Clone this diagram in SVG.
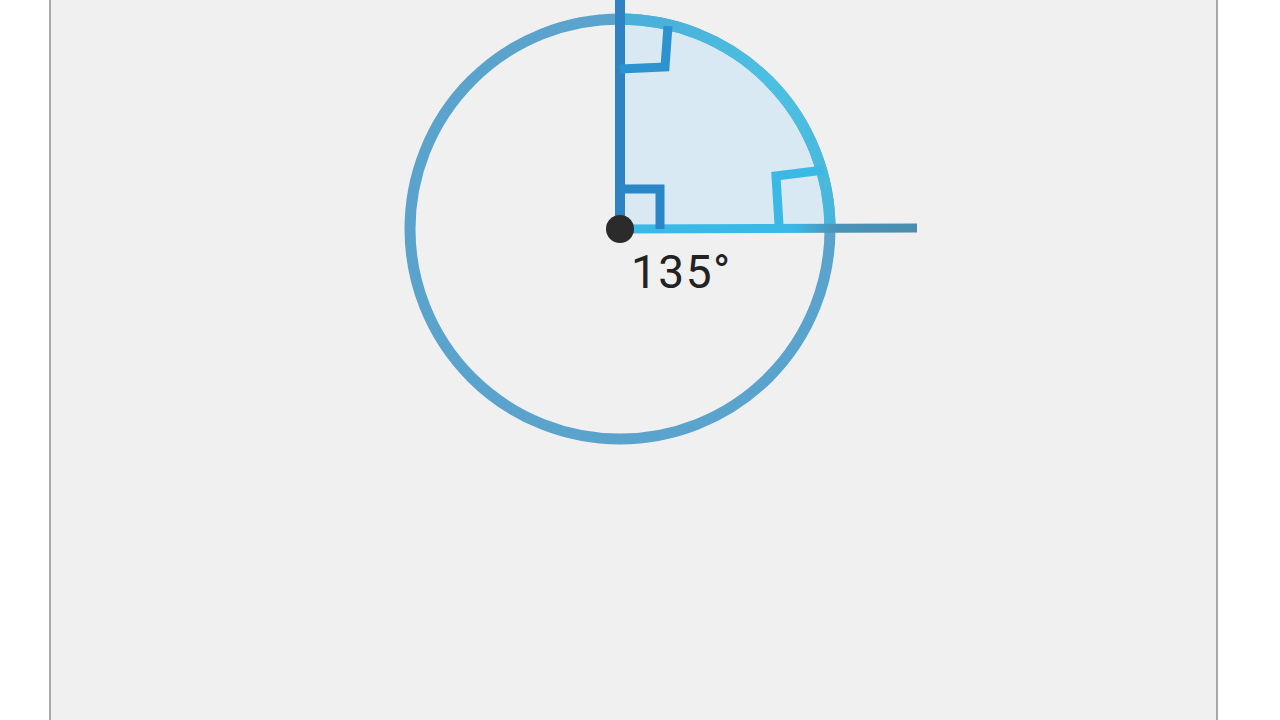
<svg xmlns="http://www.w3.org/2000/svg" width="1280" height="720" viewBox="0 0 1280 720">
  <defs>
    <linearGradient id="hline" gradientUnits="userSpaceOnUse" x1="620" y1="0" x2="917" y2="0">
      <stop offset="0" stop-color="#3ab9e6"/>
      <stop offset="0.58" stop-color="#3ab9e6"/>
      <stop offset="0.72" stop-color="#4a93b8"/>
      <stop offset="1" stop-color="#4a8db0"/>
    </linearGradient>
    <linearGradient id="arcq" gradientUnits="userSpaceOnUse" x1="620" y1="19" x2="831" y2="229">
      <stop offset="0" stop-color="#4aaed8"/>
      <stop offset="0.5" stop-color="#4cc0e2"/>
      <stop offset="1" stop-color="#48b6dc"/>
    </linearGradient>
    <style>
      .marker { fill: none; stroke-width: 9; stroke-linejoin: miter; }
    </style>
  </defs>
  <rect x="0" y="0" width="1280" height="720" fill="#ffffff"/>
  <rect x="50" y="0" width="1167" height="720" fill="#f0f0f1"/>
  <line x1="50" y1="0" x2="50" y2="720" stroke="#a8a8a8" stroke-width="2"/>
  <line x1="1217" y1="0" x2="1217" y2="720" stroke="#a8a8a8" stroke-width="2"/>

  <g id="sector">
    <path d="M620,229 L620,19 A210,210 0 0 1 830,229 Z" fill="#d8e9f3"/>
  </g>

  <g id="circle">
    <circle cx="620" cy="229" r="210" fill="none" stroke="#5aa3cd" stroke-width="11"/>
    <path d="M620,19 A210,210 0 0 1 830,229" fill="none" stroke="url(#arcq)" stroke-width="11"/>
  </g>

  <g id="connectors">
    <line x1="620" y1="229" x2="917" y2="228" stroke="url(#hline)" stroke-width="9"/>
    <line x1="620" y1="0" x2="620" y2="229" stroke="#2f83c4" stroke-width="10"/>
  </g>

  <g id="right-angle-center">
    <polyline class="marker" points="620,189 660,189 660,229" stroke="#2b86c8"/>
  </g>
  <g id="right-angle-top">
    <polyline class="marker" points="620,69 665,67 668,26" stroke="#2c92d0"/>
  </g>
  <g id="right-angle-right">
    <polyline class="marker" points="779,225 776,176 824,170" stroke="#3ab9e4"/>
  </g>

  <g id="center-point">
    <circle cx="620" cy="229" r="14" fill="#2b2b2c"/>
  </g>

  <g id="label">
    <text x="631" y="288" font-family="Roboto, 'Noto Sans', sans-serif" font-size="46" letter-spacing="1.5" fill="#222222">135°</text>
  </g>
</svg>
